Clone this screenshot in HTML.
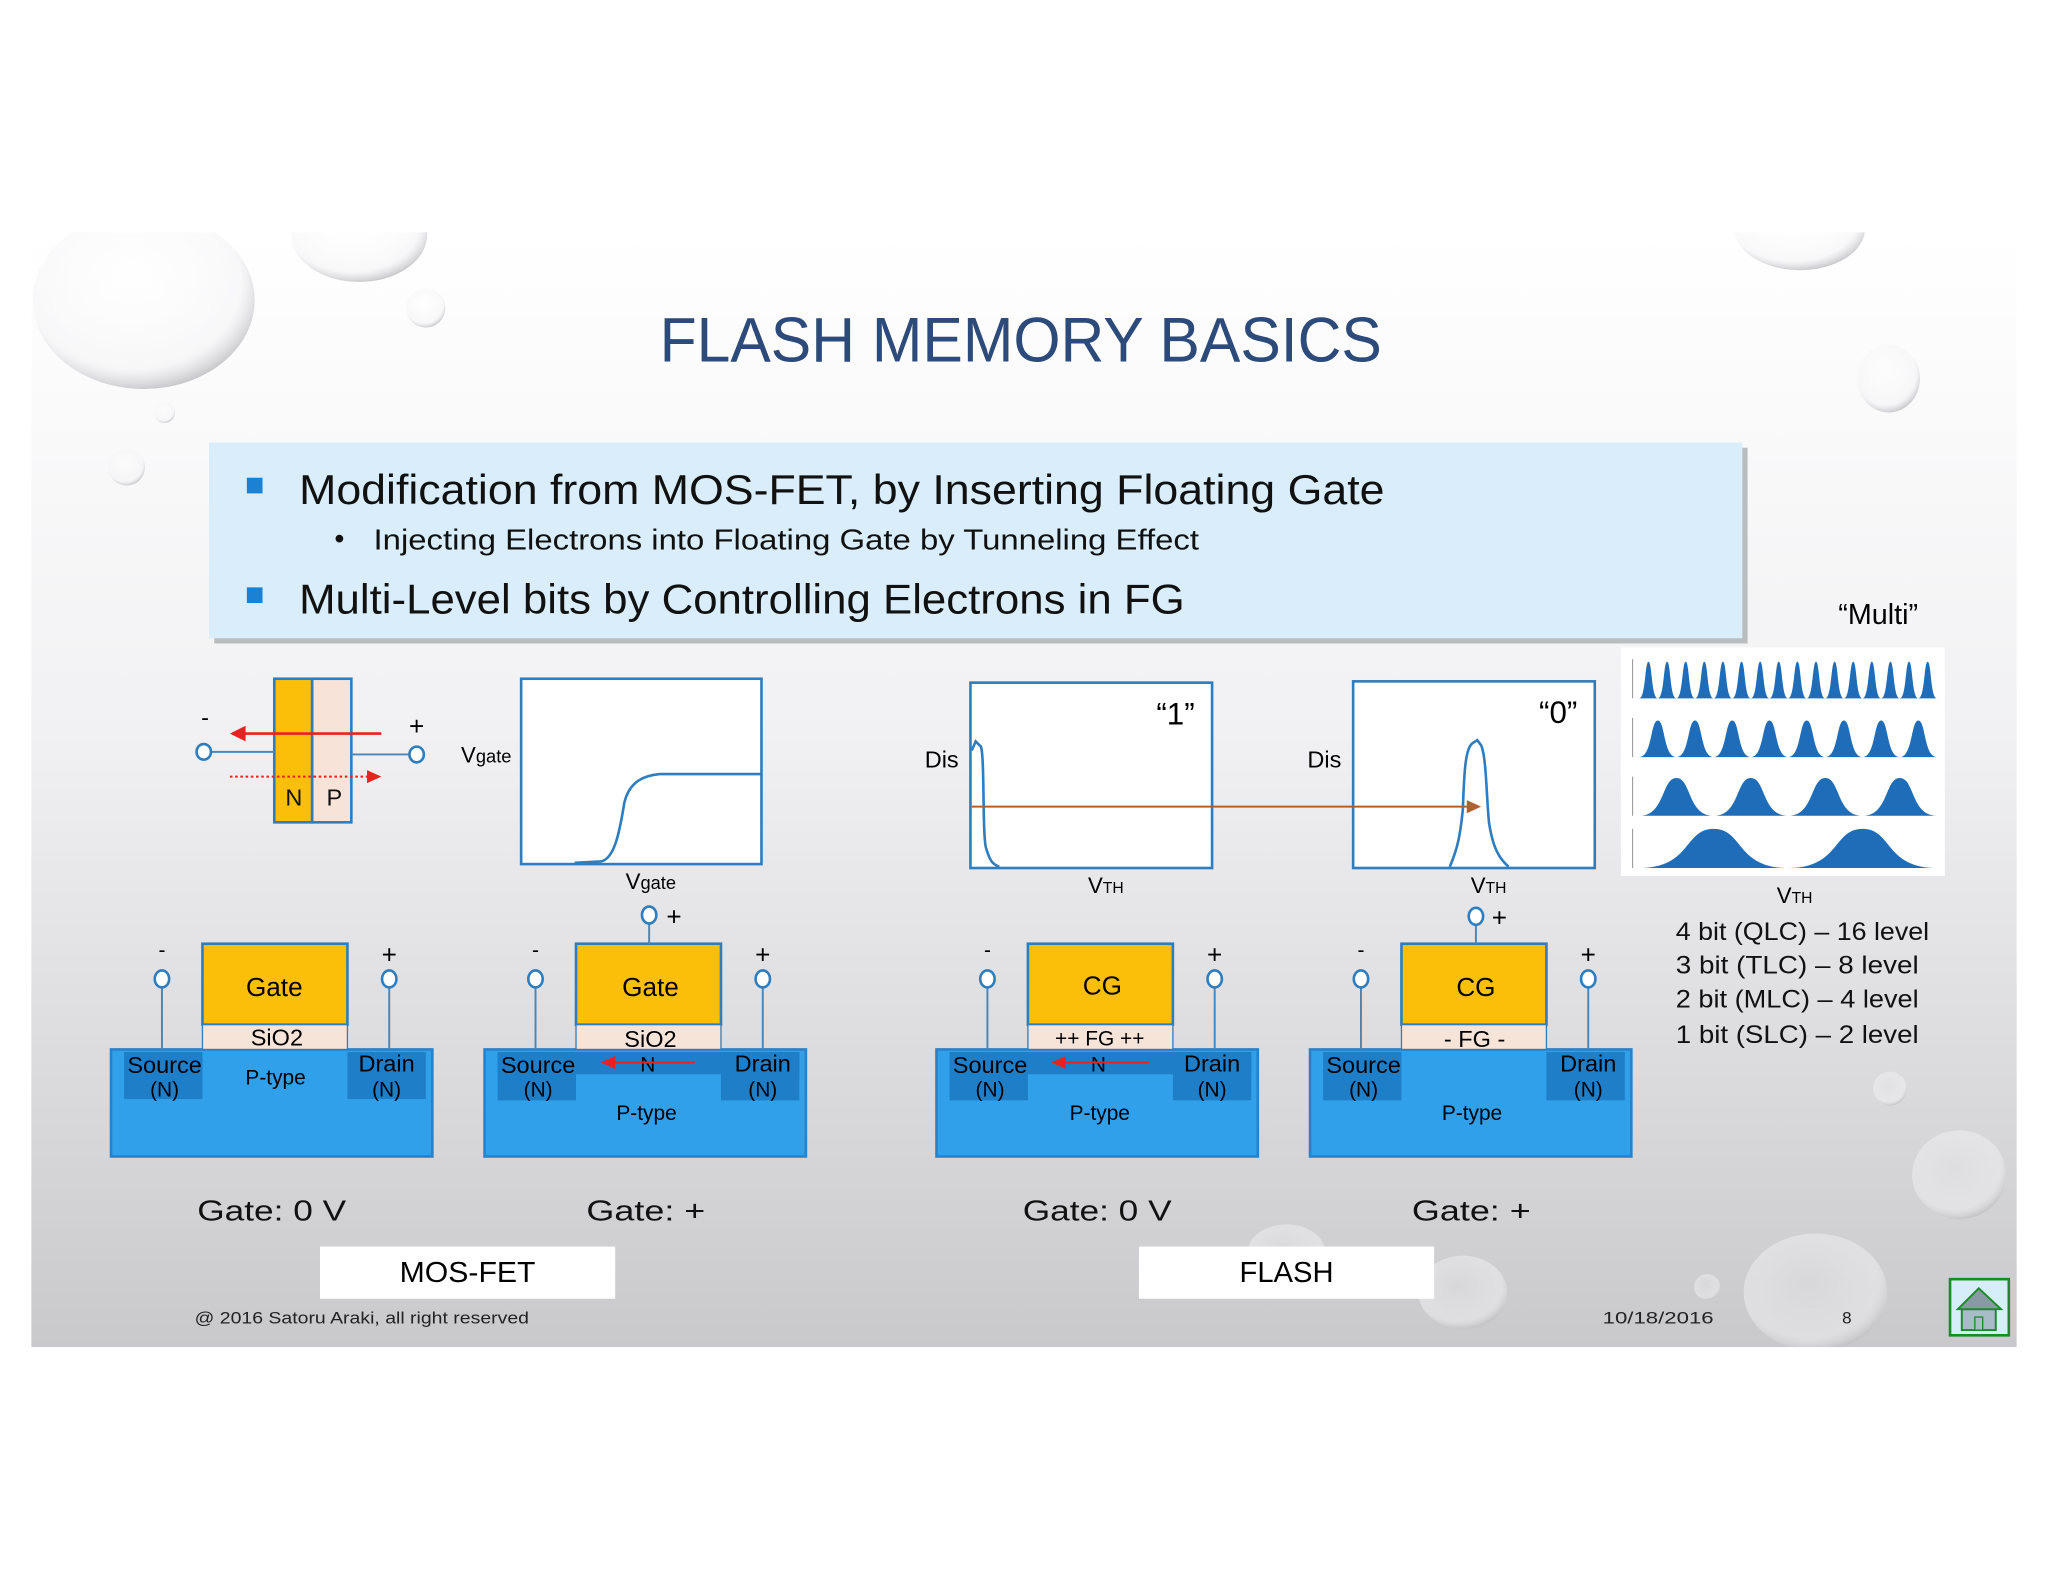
<!DOCTYPE html>
<html><head><meta charset="utf-8"><style>
html,body{margin:0;padding:0;background:#fff;}
svg{display:block;}
text{font-family:"Liberation Sans",sans-serif;}
</style></head><body>
<svg width="2048" height="1582" viewBox="0 0 1568 1212" preserveAspectRatio="none" xmlns="http://www.w3.org/2000/svg">
<defs>
<linearGradient id="bg" x1="0" y1="0" x2="0" y2="1">
<stop offset="0" stop-color="#ffffff"/><stop offset="0.45" stop-color="#f1f1f3"/><stop offset="1" stop-color="#c9c9cb"/>
</linearGradient>
<radialGradient id="drop" cx="0.45" cy="0.4" r="0.65">
<stop offset="0" stop-color="#ffffff" stop-opacity="0.2"/><stop offset="0.75" stop-color="#f2f2f4" stop-opacity="0.5"/><stop offset="1" stop-color="#b0b0b4"/>
</radialGradient>
<clipPath id="slide"><rect x="24" y="178" width="1520" height="854"/></clipPath>
<path id="bell" d="M0 0 C0.35 0 0.3 -1 0.5 -1 C0.7 -1 0.65 0 1 0 Z"/>
<g id="term"><line x1="0" y1="7" x2="0" y2="54" stroke="#4a86b8" stroke-width="1.5"/><ellipse cx="0" cy="0" rx="5.5" ry="6.5" fill="#fff" stroke="#2e7dbf" stroke-width="2"/></g>
</defs>
<rect x="0" y="0" width="1568" height="1212" fill="#fff"/>
<rect x="24" y="178" width="1520" height="854" fill="url(#bg)"/>
<g clip-path="url(#slide)">
<ellipse cx="110" cy="230" rx="85" ry="68" fill="url(#drop)"/>
<ellipse cx="275" cy="180" rx="52" ry="36" fill="url(#drop)"/>
<circle cx="326" cy="236" r="15" fill="url(#drop)"/>
<circle cx="126" cy="316" r="8" fill="url(#drop)"/>
<circle cx="97" cy="358" r="14" fill="url(#drop)"/>
<ellipse cx="1378" cy="175" rx="50" ry="32" fill="url(#drop)"/>
<ellipse cx="1446" cy="290" rx="24" ry="26" fill="url(#drop)"/>
<circle cx="1447" cy="834" r="13" fill="url(#drop)"/>
<ellipse cx="1500" cy="900" rx="36" ry="34" fill="url(#drop)"/>
<ellipse cx="1390" cy="990" rx="55" ry="45" fill="url(#drop)"/>
<ellipse cx="1120" cy="990" rx="34" ry="28" fill="url(#drop)"/>
<circle cx="1307" cy="986" r="10" fill="url(#drop)"/>
<ellipse cx="985" cy="960" rx="30" ry="22" fill="url(#drop)"/>
</g>
<!-- title -->
<text x="505" y="277" font-size="48" fill="#2c4a7a" textLength="553" lengthAdjust="spacingAndGlyphs">FLASH MEMORY BASICS</text>
<!-- box -->
<rect x="164" y="343" width="1174" height="150" fill="#bbbcbe"/>
<rect x="160" y="339" width="1174" height="150" fill="#d9edfb"/>
<rect x="189" y="366" width="12" height="12" fill="#1a82d4"/>
<text x="229" y="386" font-size="32" fill="#111" textLength="831" lengthAdjust="spacingAndGlyphs">Modification from MOS-FET, by Inserting Floating Gate</text>
<text x="256" y="420" font-size="22" fill="#111">•</text>
<text x="286" y="421" font-size="22" fill="#111" textLength="632" lengthAdjust="spacingAndGlyphs">Injecting Electrons into Floating Gate by Tunneling Effect</text>
<rect x="189" y="450" width="12" height="12" fill="#1a82d4"/>
<text x="229" y="470" font-size="32" fill="#111" textLength="678" lengthAdjust="spacingAndGlyphs">Multi-Level bits by Controlling Electrons in FG</text>
<!-- PN diode -->
<rect x="210" y="520" width="29" height="110" fill="#fbbf09" stroke="#2e7dbf" stroke-width="2"/>
<rect x="239" y="520" width="30" height="110" fill="#f8e3d8" stroke="#2e7dbf" stroke-width="2"/>
<text x="225" y="617" font-size="18" text-anchor="middle" fill="#111">N</text>
<text x="256" y="617" font-size="18" text-anchor="middle" fill="#111">P</text>
<line x1="162" y1="576" x2="210" y2="576" stroke="#4a86b8" stroke-width="1.5"/>
<line x1="269" y1="578" x2="313" y2="578" stroke="#4a86b8" stroke-width="1.5"/>
<ellipse cx="156" cy="576" rx="5.5" ry="6" fill="#fff" stroke="#2e7dbf" stroke-width="2"/>
<ellipse cx="319" cy="578" rx="5.5" ry="6" fill="#fff" stroke="#2e7dbf" stroke-width="2"/>
<line x1="186" y1="562" x2="292" y2="562" stroke="#e8231f" stroke-width="2"/>
<polygon points="176,562 188,556 188,568" fill="#e8231f"/>
<line x1="176" y1="595" x2="282" y2="595" stroke="#e8231f" stroke-width="1.5" stroke-dasharray="2,2"/>
<polygon points="292,595 281,590 281,600" fill="#e8231f"/>
<text x="157" y="556" font-size="18" text-anchor="middle">-</text>
<text x="319" y="563" font-size="20" text-anchor="middle">+</text>
<!-- Vgate graph -->
<rect x="399" y="520" width="184" height="142" fill="#fff" stroke="#2e7dbf" stroke-width="2"/>
<path d="M440 661 L460 660 C470 658 474 640 478 615 C482 598 494 594 505 593 L583 593" fill="none" stroke="#2e7dbf" stroke-width="2"/>
<text x="353" y="584" font-size="17">V<tspan font-size="14">gate</tspan></text>
<text x="479" y="681" font-size="17">V<tspan font-size="14">gate</tspan></text>
<!-- graph 1 -->
<rect x="743" y="523" width="185" height="142" fill="#fff" stroke="#2e7dbf" stroke-width="2"/>
<path d="M744 575 L747 568 L751 572 C754 580 752 640 755 650 C758 660 760 662 765 664" fill="none" stroke="#2e7dbf" stroke-width="2"/>
<text x="900" y="555" font-size="24" text-anchor="middle">“1”</text>
<text x="708" y="588" font-size="18">Dis</text>
<text x="833" y="684" font-size="17">V<tspan font-size="12">TH</tspan></text>
<!-- graph 0 -->
<rect x="1036" y="522" width="185" height="143" fill="#fff" stroke="#2e7dbf" stroke-width="2"/>
<path d="M1110 664 C1116 650 1118 640 1120 620 C1121 590 1122 572 1128 569 L1131 567 L1134 571 C1138 580 1138 610 1140 630 C1143 650 1148 658 1155 664" fill="none" stroke="#2e7dbf" stroke-width="2"/>
<text x="1193" y="554" font-size="24" text-anchor="middle">“0”</text>
<text x="1001" y="588" font-size="18">Dis</text>
<text x="1126" y="684" font-size="17">V<tspan font-size="12">TH</tspan></text>
<line x1="744" y1="618" x2="1124" y2="618" stroke="#b06030" stroke-width="1.5"/>
<polygon points="1134,618 1123,613 1123,623" fill="#b06030"/>
<!-- Multi chart -->
<text x="1438" y="478" font-size="22" text-anchor="middle">“Multi”</text>
<rect x="1241" y="496" width="248" height="175" fill="#fff"/>
<g fill="#1f6db8" stroke="none">
<use href="#bell" transform="translate(1255,535) scale(14.25,28)"/>
<use href="#bell" transform="translate(1269.25,535) scale(14.25,28)"/>
<use href="#bell" transform="translate(1283.5,535) scale(14.25,28)"/>
<use href="#bell" transform="translate(1297.75,535) scale(14.25,28)"/>
<use href="#bell" transform="translate(1312,535) scale(14.25,28)"/>
<use href="#bell" transform="translate(1326.25,535) scale(14.25,28)"/>
<use href="#bell" transform="translate(1340.5,535) scale(14.25,28)"/>
<use href="#bell" transform="translate(1354.75,535) scale(14.25,28)"/>
<use href="#bell" transform="translate(1369,535) scale(14.25,28)"/>
<use href="#bell" transform="translate(1383.25,535) scale(14.25,28)"/>
<use href="#bell" transform="translate(1397.5,535) scale(14.25,28)"/>
<use href="#bell" transform="translate(1411.75,535) scale(14.25,28)"/>
<use href="#bell" transform="translate(1426,535) scale(14.25,28)"/>
<use href="#bell" transform="translate(1440.25,535) scale(14.25,28)"/>
<use href="#bell" transform="translate(1454.5,535) scale(14.25,28)"/>
<use href="#bell" transform="translate(1468.75,535) scale(14.25,28)"/>
<use href="#bell" transform="translate(1255,580) scale(28.5,28)"/>
<use href="#bell" transform="translate(1283.5,580) scale(28.5,28)"/>
<use href="#bell" transform="translate(1312,580) scale(28.5,28)"/>
<use href="#bell" transform="translate(1340.5,580) scale(28.5,28)"/>
<use href="#bell" transform="translate(1369,580) scale(28.5,28)"/>
<use href="#bell" transform="translate(1397.5,580) scale(28.5,28)"/>
<use href="#bell" transform="translate(1426,580) scale(28.5,28)"/>
<use href="#bell" transform="translate(1454.5,580) scale(28.5,28)"/>
<use href="#bell" transform="translate(1255,625) scale(57,29)"/>
<use href="#bell" transform="translate(1312,625) scale(57,29)"/>
<use href="#bell" transform="translate(1369,625) scale(57,29)"/>
<use href="#bell" transform="translate(1426,625) scale(57,29)"/>
<use href="#bell" transform="translate(1255,665) scale(114,30)"/>
<use href="#bell" transform="translate(1369,665) scale(114,30)"/>
</g>
<g stroke="#888" stroke-width="0.7">
<line x1="1250" y1="505" x2="1250" y2="535"/><line x1="1250" y1="550" x2="1250" y2="580"/>
<line x1="1250" y1="595" x2="1250" y2="625"/><line x1="1250" y1="635" x2="1250" y2="665"/>
</g>
<text x="1374" y="692" font-size="17" text-anchor="middle">V<tspan font-size="12">TH</tspan></text>
<g font-size="19" fill="#111">
<text x="1283" y="720" textLength="194" lengthAdjust="spacingAndGlyphs">4 bit (QLC) – 16 level</text>
<text x="1283" y="746" textLength="186" lengthAdjust="spacingAndGlyphs">3 bit (TLC)  –  8 level</text>
<text x="1283" y="772" textLength="186" lengthAdjust="spacingAndGlyphs">2 bit (MLC) –  4 level</text>
<text x="1283" y="799" textLength="186" lengthAdjust="spacingAndGlyphs">1 bit (SLC)  –  2 level</text>
</g>
<!-- Transistor 1 -->
<g transform="translate(0,0)">
<rect x="85" y="804" width="246" height="82" fill="#31a0ea" stroke="#2b80c6" stroke-width="2"/>
<rect x="95" y="806" width="60" height="36" fill="#1f7ec8"/>
<rect x="266" y="806" width="60" height="36" fill="#1f7ec8"/>
<rect x="155" y="723" width="111" height="62" fill="#fbbf09" stroke="#2e7dbf" stroke-width="2"/>
<rect x="155" y="785" width="111" height="19" fill="#f7e4d8" stroke="#2e7dbf" stroke-width="1"/>
<use href="#term" transform="translate(124,750)"/><use href="#term" transform="translate(298,750)"/>
<text x="124" y="733" font-size="16" text-anchor="middle">-</text>
<text x="298" y="738" font-size="20" text-anchor="middle">+</text>
<text x="210" y="763" font-size="20" text-anchor="middle">Gate</text>
<text x="212" y="801" font-size="18" text-anchor="middle">SiO2</text>
<text x="126" y="822" font-size="18" text-anchor="middle">Source</text>
<text x="126" y="840" font-size="16" text-anchor="middle">(N)</text>
<text x="296" y="821" font-size="18" text-anchor="middle">Drain</text>
<text x="296" y="840" font-size="16" text-anchor="middle">(N)</text>
<text x="211" y="831" font-size="16" text-anchor="middle">P-type</text>
</g>
<!-- Transistor 2 -->
<g transform="translate(286,0)">
<rect x="85" y="804" width="246" height="82" fill="#31a0ea" stroke="#2b80c6" stroke-width="2"/>
<rect x="95" y="806" width="231" height="17" fill="#1f7ec8"/>
<rect x="95" y="806" width="60" height="37" fill="#1f7ec8"/>
<rect x="266" y="806" width="60" height="37" fill="#1f7ec8"/>
<rect x="155" y="723" width="111" height="62" fill="#fbbf09" stroke="#2e7dbf" stroke-width="2"/>
<rect x="155" y="785" width="111" height="19" fill="#f7e4d8" stroke="#2e7dbf" stroke-width="1"/>
<use href="#term" transform="translate(124,750)"/><use href="#term" transform="translate(298,750)"/>
<line x1="211" y1="707" x2="211" y2="723" stroke="#4a86b8" stroke-width="1.5"/>
<ellipse cx="211" cy="701" rx="5.5" ry="6.5" fill="#fff" stroke="#2e7dbf" stroke-width="2"/>
<text x="230" y="709" font-size="20" text-anchor="middle">+</text>
<text x="124" y="733" font-size="16" text-anchor="middle">-</text>
<text x="298" y="738" font-size="20" text-anchor="middle">+</text>
<text x="212" y="763" font-size="20" text-anchor="middle">Gate</text>
<text x="212" y="802" font-size="18" text-anchor="middle">SiO2</text>
<text x="126" y="822" font-size="18" text-anchor="middle">Source</text>
<text x="126" y="840" font-size="16" text-anchor="middle">(N)</text>
<text x="298" y="821" font-size="18" text-anchor="middle">Drain</text>
<text x="298" y="840" font-size="16" text-anchor="middle">(N)</text>
<text x="210" y="821" font-size="16" text-anchor="middle">N</text>
<line x1="184" y1="814" x2="246" y2="814" stroke="#e8231f" stroke-width="1.5"/>
<polygon points="174,814 185,809 185,819" fill="#e8231f"/>
<text x="209" y="858" font-size="16" text-anchor="middle">P-type</text>
</g>
<!-- Transistor 3 -->
<g transform="translate(632,0)">
<rect x="85" y="804" width="246" height="82" fill="#31a0ea" stroke="#2b80c6" stroke-width="2"/>
<rect x="95" y="806" width="231" height="17" fill="#1f7ec8"/>
<rect x="95" y="806" width="60" height="37" fill="#1f7ec8"/>
<rect x="266" y="806" width="60" height="37" fill="#1f7ec8"/>
<rect x="155" y="723" width="111" height="62" fill="#fbbf09" stroke="#2e7dbf" stroke-width="2"/>
<rect x="155" y="785" width="111" height="19" fill="#f7e4d8" stroke="#2e7dbf" stroke-width="1"/>
<use href="#term" transform="translate(124,750)"/><use href="#term" transform="translate(298,750)"/>
<text x="124" y="733" font-size="16" text-anchor="middle">-</text>
<text x="298" y="738" font-size="20" text-anchor="middle">+</text>
<text x="212" y="762" font-size="20" text-anchor="middle">CG</text>
<text x="210" y="801" font-size="16" text-anchor="middle">++ FG ++</text>
<text x="126" y="822" font-size="18" text-anchor="middle">Source</text>
<text x="126" y="840" font-size="16" text-anchor="middle">(N)</text>
<text x="296" y="821" font-size="18" text-anchor="middle">Drain</text>
<text x="296" y="840" font-size="16" text-anchor="middle">(N)</text>
<text x="209" y="821" font-size="16" text-anchor="middle">N</text>
<line x1="183" y1="814" x2="248" y2="814" stroke="#e8231f" stroke-width="1.5"/>
<polygon points="173,814 184,809 184,819" fill="#e8231f"/>
<text x="210" y="858" font-size="16" text-anchor="middle">P-type</text>
</g>
<!-- Transistor 4 -->
<g transform="translate(918,0)">
<rect x="85" y="804" width="246" height="82" fill="#31a0ea" stroke="#2b80c6" stroke-width="2"/>
<rect x="95" y="806" width="60" height="37" fill="#1f7ec8"/>
<rect x="266" y="806" width="60" height="37" fill="#1f7ec8"/>
<rect x="155" y="723" width="111" height="62" fill="#fbbf09" stroke="#2e7dbf" stroke-width="2"/>
<rect x="155" y="785" width="111" height="19" fill="#f7e4d8" stroke="#2e7dbf" stroke-width="1"/>
<use href="#term" transform="translate(124,750)"/><use href="#term" transform="translate(298,750)"/>
<line x1="212" y1="708" x2="212" y2="723" stroke="#4a86b8" stroke-width="1.5"/>
<ellipse cx="212" cy="702" rx="5.5" ry="6.5" fill="#fff" stroke="#2e7dbf" stroke-width="2"/>
<text x="230" y="710" font-size="20" text-anchor="middle">+</text>
<text x="124" y="733" font-size="16" text-anchor="middle">-</text>
<text x="298" y="738" font-size="20" text-anchor="middle">+</text>
<text x="212" y="763" font-size="20" text-anchor="middle">CG</text>
<text x="211" y="802" font-size="18" text-anchor="middle">- FG -</text>
<text x="126" y="822" font-size="18" text-anchor="middle">Source</text>
<text x="126" y="840" font-size="16" text-anchor="middle">(N)</text>
<text x="298" y="821" font-size="18" text-anchor="middle">Drain</text>
<text x="298" y="840" font-size="16" text-anchor="middle">(N)</text>
<text x="209" y="858" font-size="16" text-anchor="middle">P-type</text>
</g>
<!-- captions -->
<g font-size="22" fill="#111">
<text x="151" y="935" textLength="114" lengthAdjust="spacingAndGlyphs">Gate: 0 V</text>
<text x="449" y="935" textLength="91" lengthAdjust="spacingAndGlyphs">Gate: +</text>
<text x="783" y="935" textLength="114" lengthAdjust="spacingAndGlyphs">Gate: 0 V</text>
<text x="1081" y="935" textLength="91" lengthAdjust="spacingAndGlyphs">Gate: +</text>
</g>
<rect x="245" y="955" width="226" height="40" fill="#fff"/>
<text x="306" y="982" font-size="22" textLength="104" lengthAdjust="spacingAndGlyphs">MOS-FET</text>
<rect x="872" y="955" width="226" height="40" fill="#fff"/>
<text x="949" y="982" font-size="22" textLength="72" lengthAdjust="spacingAndGlyphs">FLASH</text>
<text x="149" y="1014" font-size="13" fill="#222" textLength="256" lengthAdjust="spacingAndGlyphs">@ 2016 Satoru Araki, all right reserved</text>
<text x="1227" y="1014" font-size="13" fill="#222" textLength="85" lengthAdjust="spacingAndGlyphs">10/18/2016</text>
<text x="1414" y="1014" font-size="13" fill="#222" text-anchor="middle">8</text>
<!-- home icon -->
<rect x="1493" y="980" width="45" height="43" fill="#d6eefa" stroke="#1a8a2a" stroke-width="2"/>
<rect x="1502" y="1003" width="26" height="16" fill="#a8bcc8" stroke="#1a8a2a" stroke-width="1.5"/>
<polygon points="1515,987 1499,1003 1532,1003" fill="#8a9aa4" stroke="#1a8a2a" stroke-width="1.5"/>
<rect x="1512" y="1009" width="6" height="10" fill="#a8bcc8" stroke="#1a8a2a" stroke-width="1"/>
</svg>
</body></html>
